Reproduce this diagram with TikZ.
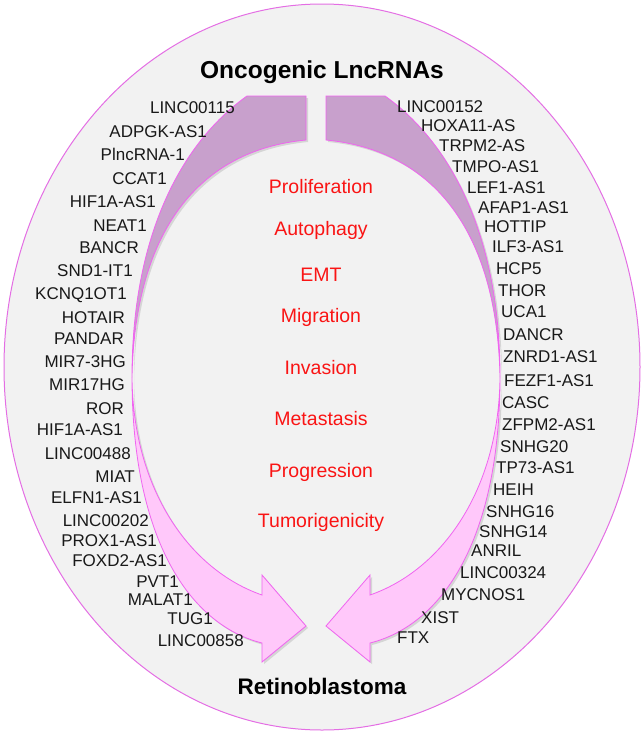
\documentclass[tikz,border=0pt]{standalone}
\usepackage{fontspec}
\setmainfont{Liberation Sans}
\usetikzlibrary{shadows}
\definecolor{mauve}{RGB}{200,160,204}
\definecolor{pinkf}{RGB}{255,200,250}
\definecolor{edgec}{RGB}{240,100,240}
\definecolor{ellf}{RGB}{242,242,242}
\definecolor{ellb}{RGB}{228,110,228}
\definecolor{redt}{RGB}{250,20,20}
\definecolor{labc}{RGB}{25,25,25}
\begin{document}
\begin{tikzpicture}[x=1pt,y=-1pt,
  band/.style={draw=edgec,line width=0.8pt,drop shadow={opacity=0.25,shadow xshift=2pt,shadow yshift=-2pt}},
  lab/.style={inner sep=0pt,font=\fontsize{17}{19}\selectfont,text=labc},
  labl/.style={lab,anchor=east},
  labr/.style={lab,anchor=west},
  eff/.style={inner sep=0pt,font=\fontsize{19.5}{22}\selectfont,text=redt},
  ttl/.style={inner sep=0pt,font=\fontsize{24.5}{28}\bfseries\selectfont}]
\useasboundingbox (0,0) rectangle (644,734);
\draw[fill=ellf,draw=ellb,line width=1pt] (322,367) ellipse [x radius=318, y radius=363];
\coordinate (P) at (132,377);
\coordinate (Q) at (500,377);
% left arrow
\path[band,fill=mauve] (247,96) -- (306,96) -- (306,140) .. controls (200,150) and (135,230) .. (P) .. controls (132,230) and (185,140) .. (247,96) -- cycle;
\path[band,fill=pinkf] (P) .. controls (133,490) and (190,570) .. (262,595) -- (262,575) -- (306,626) -- (262,662) -- (262,643) .. controls (190,625) and (132,540) .. (P) -- cycle;
% right arrow
\path[band,fill=mauve] (385,96) -- (326,96) -- (326,140) .. controls (432,150) and (497,230) .. (Q) .. controls (500,230) and (447,140) .. (385,96) -- cycle;
\path[band,fill=pinkf] (Q) .. controls (499,490) and (442,570) .. (370,595) -- (370,575) -- (326,626) -- (370,662) -- (370,643) .. controls (442,625) and (500,540) .. (Q) -- cycle;
\node[ttl] (t1) at (322,72) {Oncogenic LncRNAs};
\node[ttl,font=\fontsize{22.5}{26}\bfseries\selectfont] (t2) at (322,686) {Retinoblastoma};
\foreach \t/\yy [count=\i] in {Proliferation/187,Autophagy/230,EMT/275,Migration/317,Invasion/368,Metastasis/419,Progression/472,Tumorigenicity/522}
  \node[eff] (e\i) at (321,\yy) {\t};
\foreach \t/\xx/\yy [count=\i] in {LINC00115/235/108,ADPGK-AS1/207/132,PlncRNA-1/185/154,CCAT1/167/179,HIF1A-AS1/156/202,NEAT1/147/226,BANCR/139/248,SND1-IT1/133/271,KCNQ1OT1/127/295,HOTAIR/125/318,PANDAR/124/339,MIR7-3HG/126/362,MIR17HG/125/385,ROR/124/409,HIF1A-AS1/123/430,LINC00488/131/454,MIAT/135/477,ELFN1-AS1/142/498,LINC00202/149/521,PROX1-AS1/157/541,FOXD2-AS1/167/561,PVT1/179/582,MALAT1/193/600,TUG1/213/619,LINC00858/244/641}
  \node[labl] (l\i) at (\xx,\yy) {\t};
\foreach \t/\xx/\yy [count=\i] in {LINC00152/397/107,HOXA11-AS/421/126,TRPM2-AS/439/146,TMPO-AS1/452/167,LEF1-AS1/467/188,AFAP1-AS1/478/208,HOTTIP/484/227,ILF3-AS1/492/247,HCP5/496/269,THOR/498/291,UCA1/501/312,DANCR/503/335,ZNRD1-AS1/503/357,FEZF1-AS1/504/381,CASC/502/403,ZFPM2-AS1/502/425,SNHG20/500/447,TP73-AS1/496/468,HEIH/493/490,SNHG16/486/512,SNHG14/479/532,ANRIL/471/551,LINC00324/460/573,MYCNOS1/441/595,XIST/421/618,FTX/397/638}
  \node[labr] (r\i) at (\xx,\yy) {\t};
\end{tikzpicture}
\end{document}
